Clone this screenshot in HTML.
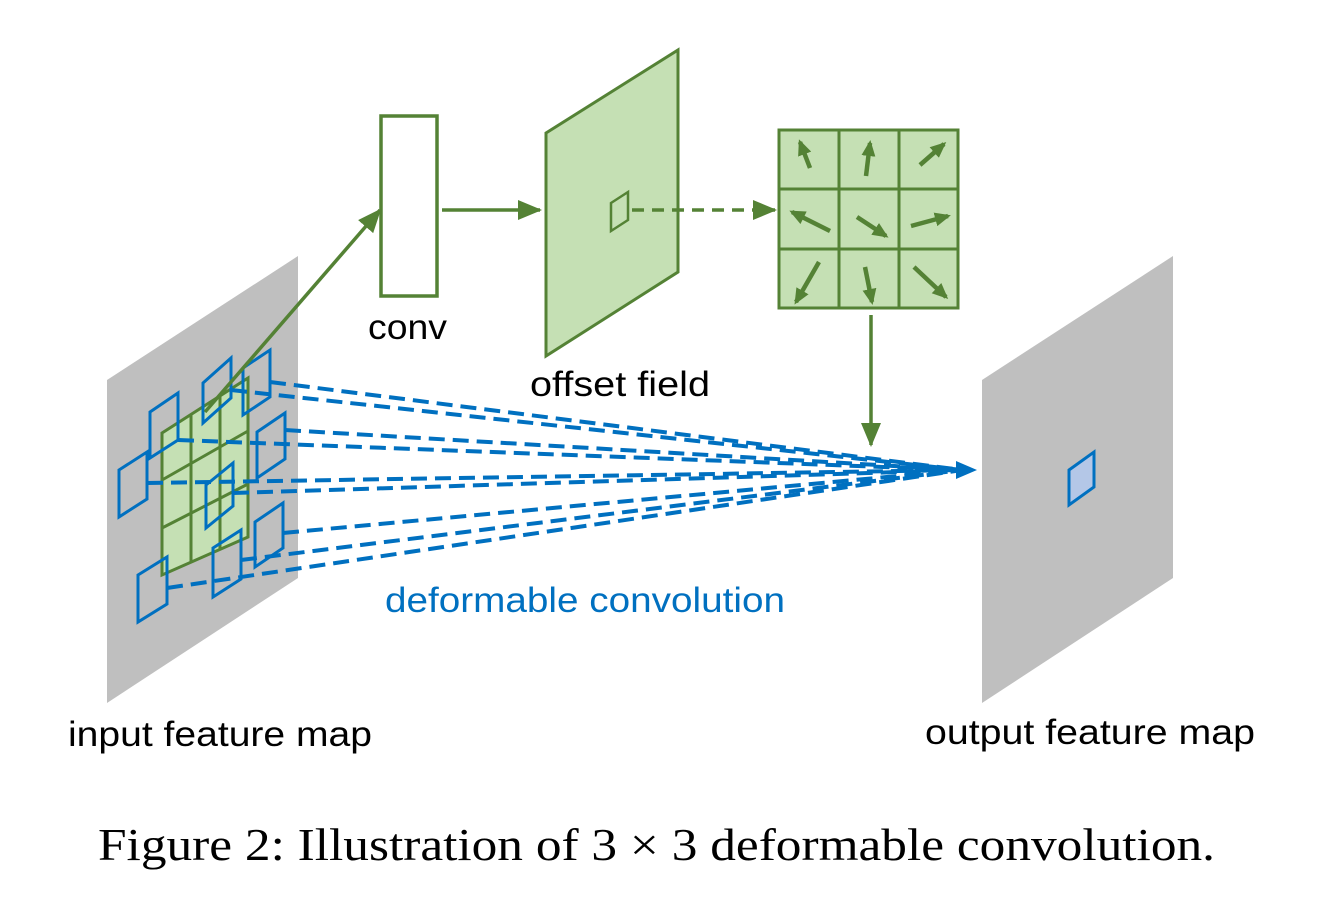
<!DOCTYPE html>
<html><head><meta charset="utf-8"><style>
html,body{margin:0;padding:0;background:#fff}
svg{display:block}
</style></head><body>
<svg width="1328" height="910" viewBox="0 0 1328 910" xmlns="http://www.w3.org/2000/svg">
<defs>
<marker id="gs" markerWidth="16" markerHeight="16" refX="13" refY="8" orient="auto" markerUnits="userSpaceOnUse" viewBox="0 0 16 16"><path d="M0,1 L16,8 L0,15 z" fill="#548235"/></marker>
<marker id="gb" markerWidth="24" markerHeight="24" refX="22" refY="12" orient="auto" markerUnits="userSpaceOnUse" viewBox="0 0 24 24"><path d="M0,2 L24,12 L0,22 z" fill="#548235"/></marker>
</defs>
<polygon points="107,380 298,256 298,578 107,703" fill="#bfbfbf"/>
<polygon points="982,380 1173,256 1173,578 982,703" fill="#bfbfbf"/>
<polygon points="162,433 248,378 248,537 162,575" fill="#c5e0b4" stroke="#548235" stroke-width="3"/>
<g stroke="#548235" stroke-width="3" fill="none">
<line x1="191" y1="414" x2="191" y2="562"/>
<line x1="220" y1="396" x2="220" y2="549"/>
<line x1="162" y1="480" x2="248" y2="431"/>
<line x1="162" y1="528" x2="248" y2="484"/>
</g>
<g stroke="#0070c0" stroke-width="4" stroke-dasharray="16,8" fill="none">
<line x1="270" y1="382" x2="962" y2="470"/>
<line x1="231" y1="390" x2="962" y2="470"/>
<line x1="285" y1="430" x2="962" y2="470"/>
<line x1="178" y1="440" x2="962" y2="470"/>
<line x1="147" y1="483" x2="962" y2="470"/>
<line x1="233" y1="493" x2="962" y2="470"/>
<line x1="283" y1="533" x2="962" y2="470"/>
<line x1="241" y1="560" x2="962" y2="470"/>
<line x1="167" y1="588" x2="962" y2="470"/>
</g>
<polygon points="956,461 977,470 956,479" fill="#0070c0"/>
<g fill="none" stroke="#0070c0" stroke-width="3">
<polygon points="150,412 178,393 178,440 150,458"/>
<polygon points="203,383 231,358 231,398 203,423"/>
<polygon points="243,368 270,350 270,397 243,415"/>
<polygon points="119,470 147,452 147,499 119,517"/>
<polygon points="257,432 285,413 285,459 257,478"/>
<polygon points="206,485 233,463 233,506 206,528"/>
<polygon points="255,522 283,503 283,548 255,567"/>
<polygon points="213,548 241,530 241,579 213,597"/>
<polygon points="138,575 167,557 167,604 138,622"/>
</g>
<line x1="205" y1="412" x2="380" y2="210" stroke="#548235" stroke-width="3.5" marker-end="url(#gb)"/>
<rect x="381" y="116" width="56" height="180" fill="#fff" stroke="#548235" stroke-width="3.5"/>
<line x1="442" y1="210" x2="540" y2="210" stroke="#548235" stroke-width="3.5" marker-end="url(#gb)"/>
<polygon points="546,133 678,50 678,272 546,356" fill="#c5e0b4" stroke="#548235" stroke-width="3"/>
<polygon points="611,203 628,192 628,220 611,231" fill="none" stroke="#548235" stroke-width="2.5"/>
<line x1="632" y1="210" x2="775" y2="210" stroke="#548235" stroke-width="3.5" stroke-dasharray="12,8" marker-end="url(#gb)"/>
<rect x="779" y="130" width="179" height="178" fill="#c5e0b4" stroke="#548235" stroke-width="3"/>
<g stroke="#548235" stroke-width="3">
<line x1="839" y1="130" x2="839" y2="308"/><line x1="899" y1="130" x2="899" y2="308"/>
<line x1="779" y1="189" x2="958" y2="189"/><line x1="779" y1="249" x2="958" y2="249"/>
</g>
<g stroke="#548235" stroke-width="4.5" marker-end="url(#gs)">
<line x1="810" y1="168" x2="800" y2="142"/>
<line x1="866" y1="176" x2="870" y2="143"/>
<line x1="920" y1="165" x2="944" y2="144"/>
<line x1="830" y1="231" x2="792" y2="212"/>
<line x1="857" y1="217" x2="886" y2="236"/>
<line x1="911" y1="226" x2="948" y2="216"/>
<line x1="819" y1="262" x2="796" y2="302"/>
<line x1="865" y1="267" x2="872" y2="302"/>
<line x1="914" y1="267" x2="946" y2="297"/>
</g>
<line x1="871" y1="315" x2="871" y2="445" stroke="#548235" stroke-width="3.5" marker-end="url(#gb)"/>
<polygon points="1069,470 1094,452 1094,487 1069,505" fill="#b4c7e7" stroke="#0070c0" stroke-width="3"/>
<g font-family="'Liberation Sans', sans-serif" font-size="35" fill="#000">
<text x="368" y="339" textLength="79" lengthAdjust="spacingAndGlyphs">conv</text>
<text x="530" y="396" textLength="180" lengthAdjust="spacingAndGlyphs">offset field</text>
<text x="68" y="746" textLength="304" lengthAdjust="spacingAndGlyphs">input feature map</text>
<text x="925" y="744" textLength="330" lengthAdjust="spacingAndGlyphs">output feature map</text>
<text x="385" y="612" fill="#0070c0" textLength="400" lengthAdjust="spacingAndGlyphs">deformable convolution</text>
</g>
<text x="98" y="860" font-family="'Liberation Serif', serif" font-size="46" textLength="1117" lengthAdjust="spacingAndGlyphs">Figure 2: Illustration of 3 × 3 deformable convolution.</text>
</svg>
</body></html>
